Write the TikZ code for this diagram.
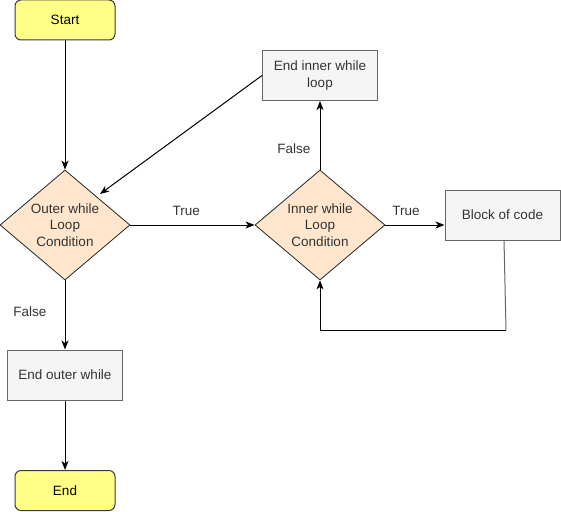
\documentclass[tikz,border=0pt]{standalone}
\usepackage{fontspec}
\setmainfont{Liberation Sans}
\usetikzlibrary{shapes.geometric,arrows.meta}
\definecolor{yfill}{HTML}{FFFF88}
\definecolor{ystroke}{HTML}{36393D}
\definecolor{dfill}{HTML}{FFE6CC}
\definecolor{gfill}{HTML}{F5F5F5}
\definecolor{gstroke}{HTML}{666666}
\definecolor{gtext}{HTML}{333333}
\tikzset{
  every node/.style={font=\fontsize{13.5pt}{16.5pt}\selectfont, inner sep=0pt},
  term/.style={draw=ystroke, fill=yfill, rounded corners=6pt, minimum width=100pt, minimum height=40pt, line width=1pt},
  decision/.style={draw=black!85, fill=dfill, diamond, minimum width=130pt, minimum height=110pt, line width=0.8pt},
  procbox/.style={draw=gstroke, fill=gfill, minimum width=115pt, minimum height=50pt, align=center, text=gtext, line width=1pt},
  conn/.style={-{Stealth[length=9pt,width=7pt,inset=2.5pt]}, line width=1pt},
  lbl/.style={text=gtext}
}
\begin{document}
\begin{tikzpicture}[x=1pt,y=-1pt]
\useasboundingbox (0,0) rectangle (561,511);
\node[term] (start) at (65,20) {Start};
\node[decision] (outer) at (65,225) {};
\node[align=center, text=gtext] (outertxt) at (65,225) {Outer while\\Loop\\Condition};
\node[decision] (inner) at (320,225) {};
\node[align=center, text=gtext] (innertxt) at (320,225) {Inner while\\Loop\\Condition};
\node[procbox] (endinner) at (320,75.5) {End inner while\\loop};
\node[procbox] (block) at (502.5,215) {Block of code};
\node[procbox] (endouter) at (65,375) {End outer while};
\node[term] (end) at (65,490.5) {End};
\coordinate (c1) at (506,330);
\coordinate (c2) at (320,330);
\coordinate (b1) at (504,240);
\coordinate (h1) at (100,194);
\draw[conn] (start) -- (outer);
\draw[conn] (outer) -- node[lbl, pos=0.45, above=9pt] (ltrue1) {True} (inner);
\draw[conn] (inner) -- node[lbl, above=9pt, pos=0.35] (ltrue2) {True} (block.west |- inner.east);
\draw[conn] (inner) -- node[lbl, left=9pt, pos=0.3] (lfalse2) {False} (endinner);
\draw[conn] (outer) -- node[lbl, left=18pt, pos=0.45] (lfalse1) {False} (endouter);
\draw[conn] (endouter) -- (end);
\draw[conn] (endinner.west) -- (h1);
\draw[gstroke, line width=1pt] (b1) -- (c1);
\draw[conn] (c1) -- (c2) -- (inner.south);
\end{tikzpicture}
\end{document}
